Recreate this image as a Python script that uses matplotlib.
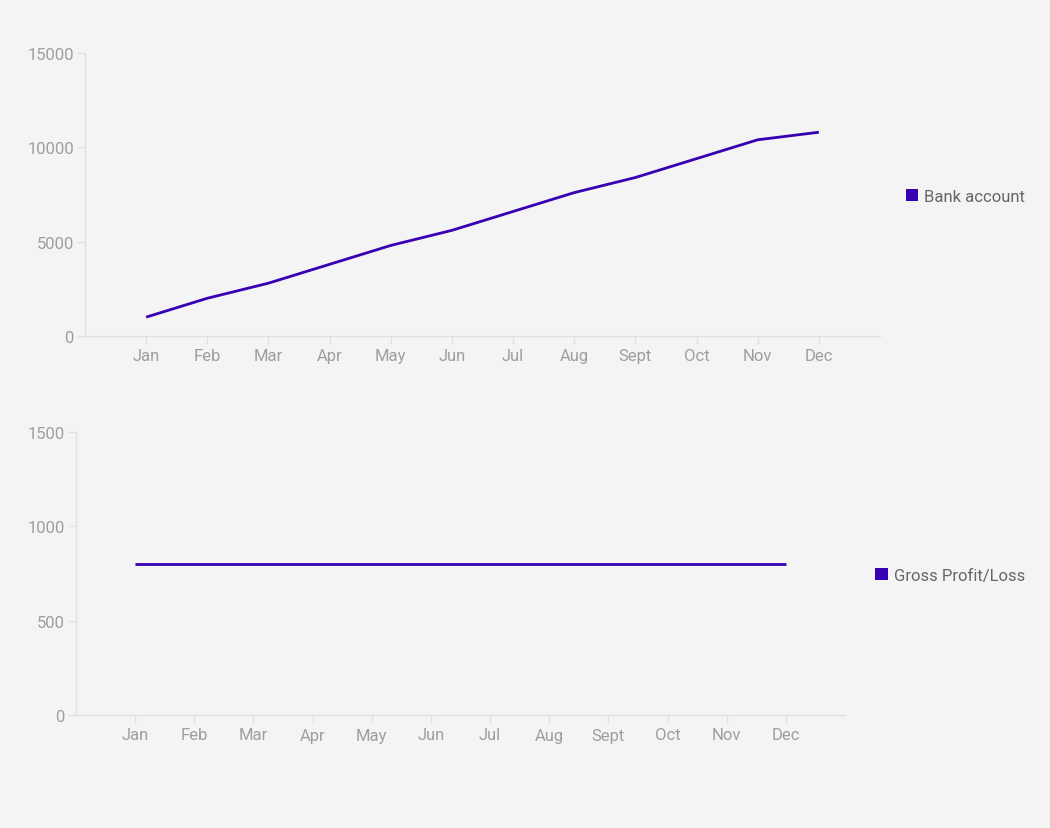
import matplotlib
matplotlib.use("Agg")
import matplotlib.pyplot as plt
from matplotlib.patches import Patch

plt.rcParams['font.family'] = ['Roboto', 'DejaVu Sans']

# data
months = ["Jan", "Feb", "Mar", "Apr", "May", "Jun", "Jul", "Aug", "Sept", "Oct", "Nov", "Dec"]
bank = [1000, 2000, 2800, 3800, 4800, 5600, 6600, 7600, 8400, 9400, 10400, 10800]
gross = [800] * 12

line_col = "#3700b3"
axis_col = "#e0e0e0"
tick_txt = "#9e9e9e"
legend_txt = "#666666"
bg = "#f4f4f4"

fig = plt.figure(figsize=(10.5, 8.29), dpi=100, facecolor=bg)
ax1 = fig.add_axes([85 / 1050, 1 - 337 / 829, 795 / 1050, 283 / 829])
ax2 = fig.add_axes([76 / 1050, 1 - 716 / 829, 769 / 1050, 283 / 829])


def style(ax, vals, ymax, ystep, label, legx):
    ax.set_facecolor(bg)
    x = range(len(months))
    ax.plot(x, vals, color=line_col, lw=2, solid_capstyle='butt')
    ax.set_xlim(-1, len(months))
    ax.set_ylim(0, ymax)
    ax.set_xticks(list(x))
    ax.set_xticklabels(months)
    ax.set_yticks(range(0, ymax + 1, ystep))
    for s in ("top", "right"):
        ax.spines[s].set_visible(False)
    for s in ("left", "bottom"):
        ax.spines[s].set_color(axis_col)
        ax.spines[s].set_linewidth(1)
    ax.tick_params(colors=axis_col, labelcolor=tick_txt, labelsize=12,
                   length=6, width=1)
    ax.tick_params(axis='x', pad=3)
    ax.tick_params(axis='y', pad=2)
    h = Patch(facecolor=line_col, edgecolor='none')
    leg = ax.legend([h], [label], loc='center right',
                    bbox_to_anchor=(legx, 0.493), bbox_transform=ax.transAxes,
                    frameon=False, handlelength=0.75, handleheight=0.75,
                    handletextpad=0.35, borderpad=0, borderaxespad=0,
                    fontsize=12)
    for t in leg.get_texts():
        t.set_color(legend_txt)


style(ax1, bank, 15000, 5000, "Bank account", (1025 - 85) / 795)
style(ax2, gross, 1500, 500, "Gross Profit/Loss", (1025 - 76) / 769)

fig.savefig("out.png", dpi=100, facecolor=bg)
